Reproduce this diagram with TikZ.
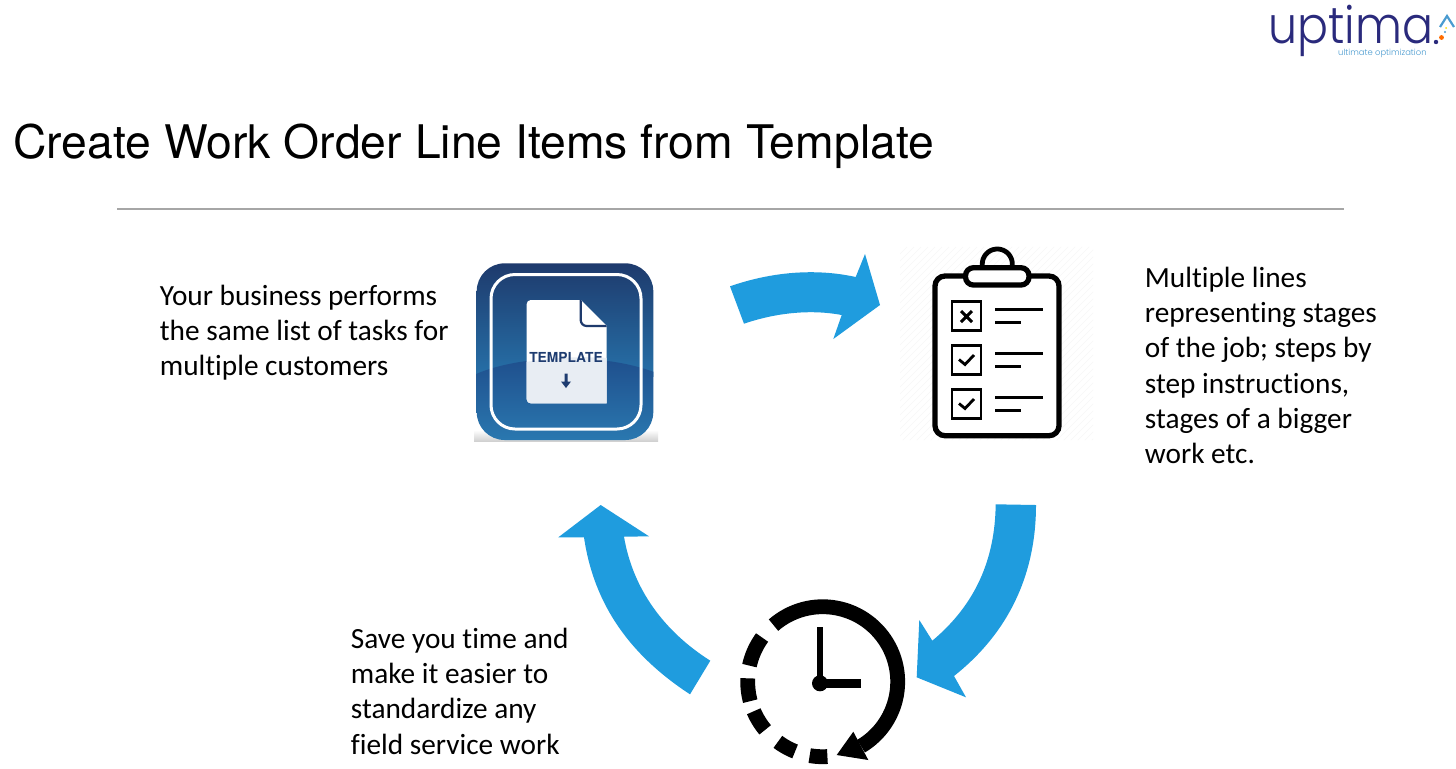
\documentclass[tikz,border=0pt]{standalone}
\usepackage{fontspec}
\setmainfont{Carlito}[Ligatures=NoCommon]
\newfontfamily\titlefont{TeX Gyre Heros}
\newfontfamily\logofont{Poppins Light}
\usetikzlibrary{calc}
\definecolor{flow}{HTML}{1F9CDE}
\definecolor{navy}{HTML}{2A2A7C}
\definecolor{logoblue}{HTML}{4A9BD0}
\definecolor{iconA}{RGB}{30,58,108}
\definecolor{iconB}{RGB}{38,112,168}
\definecolor{iconC}{RGB}{30,76,138}
\definecolor{iconD}{RGB}{42,120,176}
\definecolor{iconText}{RGB}{30,60,112}
\definecolor{docTint}{RGB}{232,237,243}
\tikzset{
  body/.style={anchor=north west,inner sep=0pt,align=left,font=\fontsize{14.65}{17.55}\selectfont,text=black},
  flowarrow/.style={fill=flow,draw=none},
  clockband/.style={draw=black,line width=7.4pt,line cap=butt},
}
\begin{document}
\begin{tikzpicture}[x=0.5pt,y=-0.5pt]
\useasboundingbox (0,0) rectangle (1456,768);
\fill[white] (0,0) rectangle (1456,768);

% logo
\node[anchor=base west,inner sep=0pt,text=navy,font=\logofont\fontsize{25.5}{26}\selectfont] (logo) at (1268,43) {\scalebox{0.9}[1]{uptima}};
\node[anchor=base east,inner sep=0pt,text=logoblue,font=\logofont\fontsize{4.2}{5}\selectfont] (tagline) at (1427,55) {ultimate optimization};
\fill[navy] (1436,42) circle (2.2);
\draw[logoblue,line width=1.1pt] (1440,27) -- (1447,16) -- (1454,27);
\fill[orange!85!red] (1441.5,37.5) circle (2.4);
\fill[logoblue] (1445,32) circle (1.2);
\fill[yellow!80!orange] (1446,28) circle (1);

% title
\node[anchor=base west,inner sep=0pt,font=\titlefont\fontsize{23.15}{26}\selectfont] (title) at (13,158) {Create Work Order Line Items from Template};
\coordinate (ruleL) at (117,209);
\coordinate (ruleR) at (1344,209);
\draw[draw=black!35,line width=0.75pt] (ruleL) -- (ruleR);

% template icon
\shade[top color=white,bottom color=black!18] (474,430) rectangle (658,441);
\begin{scope}
  \clip[rounded corners=14pt] (476.7,263.3) rectangle (653.3,440);
  \shade[top color=iconA,bottom color=iconB] (476,263) rectangle (654,376);
  \shade[top color=iconC,bottom color=iconD]
    (476,374) .. controls (520,355) and (600,352) .. (654,372) -- (654,441) -- (476,441) -- cycle;
\end{scope}
\draw[white,line width=1.5pt,rounded corners=12pt] (491,274.5) rectangle (641,429);
\begin{scope}
  \path[clip,rounded corners=2pt] (526.7,300) -- (700,300) -- (700,403.3) -- (526.7,403.3) -- cycle;
  \path[clip] (526,299) -- (580,299) -- (606.7,325.7) -- (606.7,404) -- (526,404) -- cycle;
  \fill[white] (526,299) rectangle (608,404);
  \fill[docTint] (526,362) .. controls (550,358) and (580,356) .. (608,358) -- (608,404) -- (526,404) -- cycle;
  \draw[draw=iconA,line width=1.1pt,rounded corners=3pt] (580.7,298) -- (580.7,326) -- (608,326);
\end{scope}
\node[inner sep=0pt,text=iconText,font=\titlefont\bfseries\fontsize{6.9}{8}\selectfont] (tpl) at (566,357) {TEMPLATE};
\fill[iconText] (564.5,373.5) -- (567.5,373.5) -- (567.5,381.5) -- (571,381.5) -- (566,388) -- (561,381.5) -- (564.5,381.5) -- cycle;

% arrows
\fill[flowarrow] (730,286.3) .. controls (771,272) and (815,268) .. (855.7,277) -- (865,254) -- (880,305) -- (833.3,339) -- (841.7,315) .. controls (810,309) and (775,313) .. (744,323.7) -- cycle;
\fill[flowarrow] (995.7,504.3) -- (1036,505) .. controls (1036,570) and (1012,630) .. (954,676) -- (966,697.3) -- (916.7,677.3) -- (919.3,620) -- (932.3,640.7) .. controls (975,605) and (995,560) .. (995.7,504.3) -- cycle;
\fill[flowarrow] (600.7,505) -- (649,536.3) -- (624,536.7) .. controls (633,590) and (665,632) .. (710.3,660.7) -- (690,694.3) .. controls (630,655) and (594,605) .. (584,537.3) -- (558.3,537.3) -- cycle;

% clipboard
\begin{scope}
  \clip (900,245) rectangle (1093,440);
  \foreach \k in {0,7,...,400} \draw[black!3,line width=0.3pt] (700+\k,440) -- (893+\k,247);
\end{scope}
\fill[white] (935,276) rectangle (1059,435.7);
\draw[black,line width=2.65pt,rounded corners=5pt] (935,276) rectangle (1059,435.7);
\draw[black,line width=2.4pt,line join=round] (982.3,270) -- plot[domain=180:0,samples=30] ({997.3+15*cos(\x)},{264-15*sin(\x)}) -- (1012.3,270);
\draw[black,fill=white,line width=2.65pt,rounded corners=4pt] (965.5,267.7) rectangle (1029,285);
\foreach \y in {0,44,88} {
  \draw[black,line width=1.25pt] (952,301.7+\y) rectangle (981,330.7+\y);
  \draw[black,line width=1.4pt] (995,309.7+\y) -- (1043.3,309.7+\y);
  \draw[black,line width=1.4pt] (995,322.7+\y) -- (1020.7,322.7+\y);
}
\draw[black,line width=1.5pt] (961,311) -- (972,322) (972,311) -- (961,322);
\foreach \y in {44,88} \draw[black,line width=1.4pt] (959,315.5+\y) -- (965,320.5+\y) -- (974,311+\y);

% clock
\coordinate (hub) at (820,683.3);
\draw[clockband] plot[domain=131:-59.3,samples=60] ({822.7+75*cos(\x)},{681.7-75*sin(\x)});
\fill[black] (836.7,755) -- (853.3,731.7) -- (868.3,760) -- cycle;
\foreach \a/\b in {143.9/167.6,177.4/195,203.2/219.9,233.3/248.4,260/273.6}{
  \draw[clockband] plot[domain=\a:\b,samples=12] ({822.7+75*cos(\x)},{681.7-75*sin(\x)});
}
\draw[black,line width=3pt] (hub) -- (820,627);
\draw[black,line width=4.3pt] (hub) -- (860.7,683.3);
\fill[black] (hub) circle (8);

% texts
\node[body] (t1) at (159.5,285) {Your business performs\\the same list of tasks for\\multiple customers};
\node[body] (t2) at (1144.5,267) {Multiple lines\\representing stages\\of the job; steps by\\step instructions,\\stages of a bigger\\work etc.};
\node[body] (t3) at (350.5,628) {Save you time and\\make it easier to\\standardize any\\field service work};
\end{tikzpicture}
\end{document}
